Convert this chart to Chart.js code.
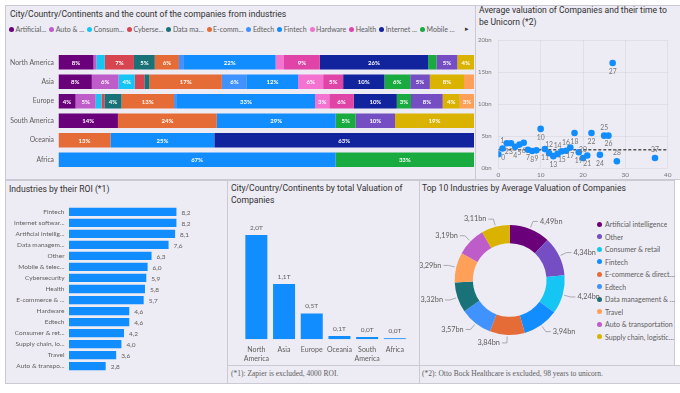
<!DOCTYPE html>
<html>
<head>
<meta charset="utf-8">
<script src="https://cdn.jsdelivr.net/npm/chart.js@4.4.1/dist/chart.umd.min.js"></script>
<style>
  html, body { margin: 0; padding: 0; background: #fff; }
  body { width: 680px; height: 393px; position: relative; overflow: hidden; font-family: Lato, sans-serif; color: #605e5c; }
  .panel { position: absolute; background: #edebf4; border: 1px solid #cbc9d4; box-sizing: border-box; }
  .title { position: absolute; font: 8.6px/12px Roboto, sans-serif; color: #323130; white-space: nowrap; }
  .note { position: absolute; font: 7.5px/10px "Liberation Serif", serif; color: #605e5c; white-space: nowrap; }
  canvas { position: absolute; }
  .legend { position: absolute; display: flex; align-items: center; font-size: 7px; white-space: nowrap; }
  .legend .item { display: flex; align-items: center; margin-right: 3px; }
  .dot { width: 5px; height: 5px; border-radius: 50%; margin-right: 1.5px; flex: none; }
  .vlegend { position: absolute; font-size: 7px; white-space: nowrap; }
  .vlegend .item { display: flex; align-items: center; height: 12.5px; }
  .vlegend .item span:last-child { max-width: 70px; overflow: hidden; text-overflow: ellipsis; }
</style>
</head>
<body>
<div class="panel" style="left:5px;top:5px;width:471px;height:175px"></div>
<div class="panel" style="left:475px;top:5px;width:206px;height:175px"></div>
<div class="panel" style="left:5px;top:180px;width:223px;height:204px"></div>
<div class="panel" style="left:227px;top:180px;width:193px;height:186px"></div>
<div class="panel" style="left:227px;top:365px;width:193px;height:19px"></div>
<div class="panel" style="left:419px;top:180px;width:256px;height:186px"></div>
<div class="panel" style="left:419px;top:365px;width:262px;height:19px"></div>

<div class="title" style="left:10px;top:8px">City/Country/Continents and the count of the companies from industries</div>
<div class="legend" id="mix-legend" style="left:9px;top:24px;height:10px"></div>
<div style="position:absolute;left:465px;top:24px;font-size:7px;color:#333">&#9656;</div>
<div class="title" style="left:479px;top:4px">Average valuation of Companies and their time to<br>be Unicorn (*2)</div>
<div class="title" style="left:9px;top:183px">Industries by their ROI (*1)</div>
<div class="title" style="left:231px;top:182px">City/Country/Continents by total Valuation of<br>Companies</div>
<div class="title" style="left:422px;top:182px">Top 10 Industries by Average Valuation of Companies</div>
<div class="note" style="left:231px;top:369px">(*1): Zapier is excluded, 4000 ROI.</div>
<div class="note" style="left:422px;top:369px">(*2): Otto Bock Healthcare is excluded, 98 years to unicorn.</div>
<div class="vlegend" id="top-legend" style="left:597px;top:218px"></div>

<canvas id="mix" width="470" height="134" style="left:5px;top:44px"></canvas>
<canvas id="unicorn" width="205" height="150" style="left:475px;top:30px"></canvas>
<canvas id="roi" width="222" height="182" style="left:5px;top:198px"></canvas>
<canvas id="valuation" width="190" height="160" style="left:228px;top:205px"></canvas>
<canvas id="top10" width="255" height="166" style="left:420px;top:198px"></canvas>

<script>
const continents = ['North America', 'Asia', 'Europe', 'South America', 'Oceania', 'Africa'];
const industries = ['Artificial intelligence', 'Auto & transportation', 'Consumer & retail', 'Cybersecurity',
  'Data management & analytics', 'E-commerce & direct-to-consumer', 'Edtech', 'Fintech', 'Hardware', 'Health',
  'Internet software & services', 'Mobile & telecommunications', 'Other', 'Supply chain, logistics, & delivery', 'Travel'];
const legendNames = ['Artificial...', 'Auto & ...', 'Consum...', 'Cyberse...', 'Data ma...', 'E-comm...', 'Edtech',
  'Fintech', 'Hardware', 'Health', 'Internet ...', 'Mobile ...'];
// share of companies (%) by industry, same order as industries
const shareNorthAmerica = [8.4, 0.7, 2, 7, 5, 5.8, 1.2, 22, 2, 8.6, 26, 2, 5, 4, 0];
const shareAsia = [8, 6.4, 3.9, 2.3, 1.2, 17.4, 6, 12.3, 6, 4.8, 9.9, 6.2, 4.7, 8.2, 2.4];
const shareEurope = [4.1, 4.8, 1.4, 0.7, 4.1, 12.6, 0.7, 33.1, 3.4, 5.9, 10.3, 3.4, 7.6, 4.1, 3.4];
const shareSouthAmerica = [14.3, 0, 0, 0, 0, 23.8, 0, 28.6, 0, 0, 0, 4.8, 9.5, 19, 0];
const shareOceania = [0, 0, 0, 0, 0, 12.5, 0, 25, 0, 0, 62.5, 0, 0, 0, 0];
const shareAfrica = [0, 0, 0, 0, 0, 0, 0, 66.7, 0, 0, 0, 33.3, 0, 0, 0];

const yearsToUnicorn = [0, 1, 2, 3, 4, 5, 6, 7, 8, 9, 10, 11, 12, 13, 14, 15, 16, 17, 18, 19, 20, 21, 22, 24, 25, 26, 27, 28, 37];
const avgValuationBn = [2.2, 3.1, 3.9, 3.9, 3.35, 3.7, 4.0, 2.9, 2.7, 2.8, 6.15, 3.0, 2.35, 1.9, 2.25, 2.65, 2.75, 3.25, 5.5, 2.5, 1.6, 2.0, 5.5, 2.1, 5.1, 5.1, 16.45, 1.1, 1.6];
const overallAvgBn = 2.9;

const roiIndustries = ['Fintech', 'Internet softwar...', 'Artificial intellig...', 'Data managem...', 'Other', 'Mobile & telec...',
  'Cybersecurity', 'Health', 'E-commerce & ...', 'Hardware', 'Edtech', 'Consumer & ret...', 'Supply chain, lo...', 'Travel', 'Auto & transpo...'];
const roiValues = [8.2, 8.2, 8.1, 7.6, 6.3, 6.0, 5.9, 5.8, 5.7, 4.6, 4.6, 4.2, 4.0, 3.6, 2.8];

const regions = ['North America', 'Asia', 'Europe', 'Oceania', 'South America', 'Africa'];
const totalValuationT = [2.02, 1.07, 0.50, 0.066, 0.045, 0.02];

const topIndustries = ['Artificial intelligence', 'Other', 'Consumer & retail', 'Fintech', 'E-commerce & direct-to-consumer',
  'Edtech', 'Data management & analytics', 'Travel', 'Auto & transportation', 'Supply chain, logistics, & delivery'];
const topAvgValuationBn = [4.49, 4.34, 4.24, 3.94, 3.84, 3.57, 3.32, 3.29, 3.19, 3.11];

const industryColors = {
  'Artificial intelligence': '#6B007B', 'Auto & transportation': '#BE5DC9', 'Consumer & retail': '#15C6F4',
  'Cybersecurity': '#D64550', 'Data management & analytics': '#197278', 'E-commerce & direct-to-consumer': '#E66C37',
  'Edtech': '#4092FF', 'Fintech': '#118DFF', 'Hardware': '#F472D0', 'Health': '#E044A7',
  'Internet software & services': '#12239E', 'Mobile & telecommunications': '#1AAB40', 'Other': '#744EC2',
  'Supply chain, logistics, & delivery': '#D9B300', 'Travel': '#FFA058'
};
const grey = '#605e5c';
const fmt = (v, d) => v.toFixed(d).replace('.', ',');

// legends
document.getElementById('mix-legend').innerHTML = legendNames.map((n, i) =>
  `<span class="item"><span class="dot" style="background:${industryColors[industries[i]]}"></span><span>${n}</span></span>`).join('');
document.getElementById('top-legend').innerHTML = topIndustries.map(n =>
  `<div class="item"><span class="dot" style="background:${industryColors[n]};margin-right:3px"></span><span>${n}</span></div>`).join('');

// chart 1: 100% stacked bars
const shares = [shareNorthAmerica, shareAsia, shareEurope, shareSouthAmerica, shareOceania, shareAfrica];
const rowTotals = shares.map(r => r.reduce((a, b) => a + b, 0));
const mixDatasets = industries.map((name, i) => ({
  label: name,
  data: shares.map((r, k) => r[i] / rowTotals[k] * 100),
  shown: shares.map(r => r[i]),
  backgroundColor: industryColors[name],
  barPercentage: 0.75, categoryPercentage: 1,
}));

const segmentLabels = {
  id: 'segmentLabels',
  afterDatasetsDraw(chart) {
    const ctx = chart.ctx;
    ctx.save();
    ctx.font = 'bold 6px Lato';
    ctx.fillStyle = '#fff';
    ctx.textAlign = 'center';
    ctx.textBaseline = 'middle';
    chart.data.datasets.forEach((ds, i) => {
      chart.getDatasetMeta(i).data.forEach((bar, j) => {
        if (ds.shown[j] < 3) return;
        ctx.fillText(Math.round(ds.shown[j]) + '%', (bar.x + bar.base) / 2, bar.y + 0.5);
      });
    });
    ctx.restore();
  }
};

new Chart(document.getElementById('mix'), {
  type: 'bar',
  data: { labels: continents, datasets: mixDatasets },
  options: {
    responsive: false, animation: false, indexAxis: 'y',
    layout: { padding: { top: 2.6, bottom: 3, right: 1, left: 0 } },
    plugins: { legend: { display: false }, tooltip: { enabled: false } },
    scales: {
      x: { stacked: true, min: 0, max: 100, display: false },
      y: {
        stacked: true, grid: { display: false, drawTicks: false }, border: { display: false },
        ticks: { padding: 4.5, color: grey, font: { family: 'Lato', size: 6.8 } },
        afterFit: s => { s.width = 53.5; }
      }
    }
  },
  plugins: [segmentLabels]
});

// chart 2: scatter
const labelAbove = [1, 12, 14, 16, 20, 25, 28, 37];
const pointLabels = {
  id: 'pointLabels',
  afterDatasetsDraw(chart) {
    const ctx = chart.ctx;
    ctx.save();
    ctx.font = '6.8px Lato';
    ctx.fillStyle = '#777';
    ctx.textAlign = 'center';
    ctx.textBaseline = 'middle';
    chart.getDatasetMeta(0).data.forEach((pt, i) => {
      const yr = yearsToUnicorn[i];
      let dx = 0, dy = 8.5;
      if (labelAbove.includes(yr)) dy = -8;
      if (yr === 0) { dx = 5; dy = 4; }
      ctx.fillText(String(yr), pt.x + dx, pt.y + dy);
    });
    ctx.restore();
  }
};

new Chart(document.getElementById('unicorn'), {
  type: 'scatter',
  data: {
    datasets: [
      { data: yearsToUnicorn.map((x, i) => ({ x, y: avgValuationBn[i] })), backgroundColor: '#118dff', borderColor: '#118dff', pointRadius: 3.3, borderWidth: 0 },
      { type: 'line', data: [{ x: 0, y: overallAvgBn }, { x: 40, y: overallAvgBn }], borderColor: '#555', borderWidth: 1.3, borderDash: [3, 2], pointRadius: 0 }
    ]
  },
  options: {
    responsive: false, animation: false,
    layout: { padding: { top: 5.3, right: 12.3, left: 0, bottom: 0 } },
    plugins: { legend: { display: false }, tooltip: { enabled: false } },
    scales: {
      x: {
        type: 'linear', min: 0, max: 40,
        ticks: { stepSize: 10, padding: 3, color: '#777', font: { family: 'Lato', size: 6.5 } },
        grid: { color: 'rgba(0,0,0,0.05)', drawTicks: false }, border: { display: false },
        afterFit: s => { s.height = 11.7; }
      },
      y: {
        min: 0, max: 20,
        ticks: { stepSize: 5, padding: 6.6, color: '#777', font: { family: 'Lato', size: 6 }, callback: v => v + 'bn' },
        grid: { color: 'rgba(0,0,0,0.05)', drawTicks: false }, border: { display: false },
        afterFit: s => { s.width = 23.3; }
      }
    }
  },
  plugins: [pointLabels]
});

// chart 3: ROI
const endLabels = {
  id: 'endLabels',
  afterDatasetsDraw(chart) {
    const ctx = chart.ctx;
    ctx.save();
    ctx.font = '6.5px Lato';
    ctx.fillStyle = grey;
    ctx.textAlign = 'left';
    ctx.textBaseline = 'middle';
    chart.getDatasetMeta(0).data.forEach((bar, i) => {
      ctx.fillText(fmt(roiValues[i], 1), bar.x + 5, bar.y + 1);
    });
    ctx.restore();
  }
};

new Chart(document.getElementById('roi'), {
  type: 'bar',
  data: { labels: roiIndustries, datasets: [{ data: roiValues, backgroundColor: '#118dff', barPercentage: 0.75, categoryPercentage: 1 }] },
  options: {
    responsive: false, animation: false, indexAxis: 'y',
    layout: { padding: { top: 5.9, bottom: 2.5, right: 27, left: 0 } },
    plugins: { legend: { display: false }, tooltip: { enabled: false } },
    scales: {
      x: { display: false, min: 0, max: 10 },
      y: {
        grid: { display: false, drawTicks: false }, border: { display: false },
        ticks: { padding: 4.5, color: grey, font: { family: 'Lato', size: 6.5 } },
        afterFit: s => { s.width = 64; }
      }
    }
  },
  plugins: [endLabels]
});

// chart 4: total valuation
const topLabels = {
  id: 'topLabels',
  afterDatasetsDraw(chart) {
    const ctx = chart.ctx;
    ctx.save();
    ctx.font = '6.5px Lato';
    ctx.fillStyle = grey;
    ctx.textAlign = 'center';
    ctx.textBaseline = 'bottom';
    chart.getDatasetMeta(0).data.forEach((bar, i) => {
      ctx.fillText(fmt(totalValuationT[i], 1) + 'T', bar.x, bar.y - 4);
    });
    ctx.restore();
  }
};

new Chart(document.getElementById('valuation'), {
  type: 'bar',
  data: { labels: regions, datasets: [{ data: totalValuationT, backgroundColor: '#118dff', barPercentage: 0.794, categoryPercentage: 1 }] },
  options: {
    responsive: false, animation: false,
    layout: { padding: { top: 5.3, bottom: 0, right: 9.3, left: 14.5 } },
    plugins: { legend: { display: false }, tooltip: { enabled: false } },
    scales: {
      x: {
        grid: { display: false, drawTicks: false }, border: { display: false },
        ticks: {
          padding: 6, color: grey, maxRotation: 0, autoSkip: false,
          font: { family: 'Lato', size: 7, lineHeight: 1.3 },
          callback: function (v) { const l = this.getLabelForValue(v); return l.includes(' ') ? l.split(' ') : l; }
        },
        afterFit: s => { s.height = 25.7; }
      },
      y: { display: false, min: 0, max: 2.5 }
    }
  },
  plugins: [topLabels]
});

// chart 5: doughnut with leader lines
const leaderLabels = {
  id: 'leaderLabels',
  afterDatasetsDraw(chart) {
    const ctx = chart.ctx;
    ctx.save();
    ctx.font = '7.3px Lato';
    ctx.textBaseline = 'middle';
    chart.getDatasetMeta(0).data.forEach((arc, i) => {
      const mid = (arc.startAngle + arc.endAngle) / 2;
      const r = arc.outerRadius;
      const c = Math.cos(mid), s = Math.sin(mid);
      const x0 = arc.x + c * (r + 1.5), y0 = arc.y + s * (r + 1.5);
      const x1 = arc.x + c * (r + 8), y1 = arc.y + s * (r + 8);
      const right = c >= 0;
      const x2 = x1 + (right ? 5 : -5);
      ctx.strokeStyle = '#9a98a0';
      ctx.lineWidth = 0.8;
      ctx.beginPath();
      ctx.moveTo(x0, y0); ctx.lineTo(x1, y1); ctx.lineTo(x2, y1);
      ctx.stroke();
      ctx.fillStyle = grey;
      ctx.textAlign = right ? 'left' : 'right';
      ctx.fillText(fmt(topAvgValuationBn[i], 2) + 'bn', x2 + (right ? 2 : -2), y1);
    });
    ctx.restore();
  }
};

new Chart(document.getElementById('top10'), {
  type: 'doughnut',
  data: { labels: topIndustries, datasets: [{ data: topAvgValuationBn, backgroundColor: topIndustries.map(n => industryColors[n]), borderWidth: 0 }] },
  options: {
    responsive: false, animation: false, cutout: '67%',
    layout: { padding: { left: 34.7, right: 110.3, top: 27, bottom: 29 } },
    plugins: { legend: { display: false }, tooltip: { enabled: false } }
  },
  plugins: [leaderLabels]
});
</script>
</body>
</html>
